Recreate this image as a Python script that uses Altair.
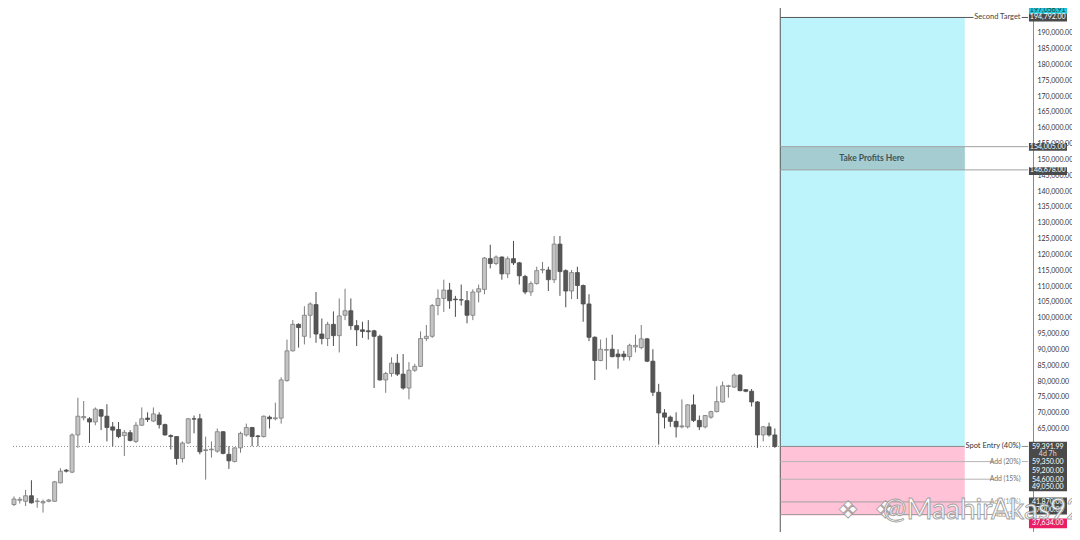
import altair as alt
import pandas as pd

# ---- weekly candles (thousands USD) ----
opens = [41.06, 42.39, 42.08, 43.82, 41.98, 41.57, 42.08, 42.08, 47.90, 51.88,
         51.27, 63.01, 68.42, 68.12, 67.10, 70.98, 68.93, 65.56, 64.75, 62.81,
         63.73, 60.97, 66.08, 68.32, 67.40, 69.34, 66.28, 62.81, 62.50, 55.56,
         60.46, 68.12, 68.12, 58.11, 58.32, 57.91, 64.03, 56.89, 54.64, 58.93,
         63.01, 65.36, 62.71, 62.50, 68.63, 68.12, 68.32, 80.17, 89.56, 97.93,
         94.15, 100.79, 104.16, 94.87, 93.44, 97.93, 94.36, 100.79, 102.22, 97.52,
         96.20, 95.89, 95.89, 94.15, 80.37, 82.41, 85.68, 82.21, 77.82, 83.43,
         84.66, 93.44, 94.15, 103.85, 106.10, 108.75, 105.90, 105.69, 105.39, 100.79,
         108.14, 108.96, 118.66, 117.13, 119.17, 113.86, 118.66, 117.33, 113.04, 108.14,
         110.80, 115.08, 115.08, 112.02, 123.25, 114.88, 108.45, 114.27, 110.18, 104.36,
         93.85, 86.50, 89.76, 90.07, 88.54, 88.54, 87.72, 90.79, 90.58, 93.34,
         86.29, 76.49, 69.96, 68.63, 67.30, 65.57, 65.57, 72.51, 67.61, 65.57,
         68.63, 70.37, 73.43, 78.33, 78.12, 81.90, 77.31, 76.80, 73.43, 63.01,
         65.57, 63.01]
highs = [43.61, 43.41, 45.66, 48.72, 43.10, 42.59, 42.80, 48.51, 52.50, 52.29,
         63.52, 74.75, 73.73, 68.63, 71.69, 71.18, 72.71, 67.10, 67.10, 64.54,
         64.54, 67.10, 71.69, 70.16, 71.69, 70.16, 66.59, 63.22, 62.60, 60.97,
         68.32, 69.14, 69.65, 62.50, 60.97, 65.05, 64.24, 59.44, 59.13, 64.03,
         66.59, 65.56, 63.01, 69.14, 69.14, 73.22, 81.20, 93.13, 99.26, 98.24,
         103.65, 104.87, 108.14, 99.77, 98.75, 102.02, 106.10, 109.16, 106.10, 99.26,
         98.75, 99.26, 96.20, 94.66, 82.92, 87.52, 88.54, 88.54, 85.99, 85.48,
         95.69, 97.73, 104.36, 108.96, 112.02, 111.00, 106.92, 110.49, 108.45, 108.96,
         110.49, 119.17, 123.05, 119.68, 119.37, 119.37, 124.27, 117.64, 113.55, 111.51,
         116.11, 117.64, 116.11, 125.81, 125.81, 115.29, 115.08, 116.11, 110.49, 107.43,
         94.15, 93.13, 93.64, 94.66, 90.07, 89.56, 91.81, 94.66, 97.73, 93.64,
         90.07, 79.15, 71.18, 69.14, 70.16, 74.24, 72.71, 75.78, 69.14, 69.34,
         70.67, 78.33, 79.86, 78.84, 82.41, 82.21, 77.51, 77.51, 73.73, 65.87,
         66.89, 65.06]
lows = [40.55, 41.37, 40.55, 41.37, 40.04, 38.51, 41.77, 41.88, 47.70, 51.17,
        50.96, 58.93, 67.61, 60.46, 66.08, 64.54, 60.97, 59.44, 61.99, 56.38,
        60.97, 60.46, 65.87, 67.10, 67.10, 65.05, 62.81, 58.42, 53.62, 54.33,
        60.26, 63.52, 56.89, 48.92, 55.87, 57.40, 56.89, 52.29, 54.33, 57.40,
        62.50, 59.44, 59.44, 62.20, 65.05, 67.61, 66.59, 79.86, 89.36, 90.58,
        91.60, 93.64, 92.11, 91.60, 91.09, 91.09, 89.05, 99.26, 96.20, 91.09,
        93.64, 93.13, 77.82, 80.17, 76.29, 81.39, 81.60, 77.31, 74.24, 82.92,
        84.45, 92.62, 93.64, 100.79, 101.81, 102.83, 100.28, 103.85, 98.24, 99.26,
        104.87, 107.43, 115.60, 116.62, 112.02, 112.53, 116.62, 110.49, 107.43, 106.92,
        110.49, 114.06, 108.45, 111.00, 106.92, 103.34, 105.90, 105.90, 98.75, 92.62,
        80.37, 86.29, 83.64, 87.52, 83.94, 86.50, 86.50, 89.05, 90.07, 85.99,
        75.27, 59.95, 65.06, 65.57, 62.20, 65.06, 65.06, 67.10, 64.55, 65.06,
        68.12, 70.16, 73.22, 74.76, 77.82, 76.80, 76.49, 72.00, 58.93, 60.97,
        62.50, 58.93]
closes = [42.80, 42.69, 43.82, 41.57, 42.18, 41.98, 42.49, 48.21, 51.58, 51.58,
          63.01, 68.93, 68.83, 67.10, 71.18, 68.93, 65.36, 64.54, 62.50, 63.83,
          61.28, 66.08, 68.12, 67.91, 69.65, 66.28, 63.01, 62.50, 55.56, 60.46,
          68.12, 68.02, 57.70, 58.32, 58.52, 64.03, 57.19, 54.85, 58.93, 63.52,
          65.36, 62.50, 62.50, 68.93, 68.12, 68.42, 80.37, 89.56, 97.93, 96.91,
          100.79, 104.36, 94.87, 93.44, 97.93, 94.36, 100.59, 102.22, 97.52, 96.20,
          95.69, 95.60, 94.15, 80.37, 82.41, 85.68, 82.21, 77.82, 83.43, 84.66,
          93.44, 94.15, 103.85, 106.10, 108.75, 105.39, 105.69, 105.60, 100.79, 108.14,
          109.16, 118.86, 117.13, 119.17, 113.86, 118.66, 117.33, 113.25, 108.14, 110.80,
          114.88, 115.29, 112.02, 123.25, 114.57, 108.45, 114.27, 110.18, 104.36, 93.85,
          86.50, 90.07, 89.97, 87.72, 87.72, 87.72, 91.30, 91.30, 93.34, 86.29,
          76.49, 69.96, 68.63, 67.30, 65.57, 65.87, 72.51, 67.61, 65.57, 69.14,
          70.37, 73.53, 78.53, 78.53, 81.90, 77.00, 76.80, 73.43, 63.01, 65.57,
          63.01, 59.39]

# ---- trade plan levels (USD) ----
second_target = 194792.0
tp_high = 154005.0
tp_low = 146678.0
spot_entry = 59391.99
add20 = 54600.0
add15 = 49050.0
add10 = 41870.0
add5 = 37900.0
zone_bottom = 37590.0

axis_values = list(range(65000, 190001, 5000))

n = len(closes)
df = pd.DataFrame({
    "i": list(range(1, n + 1)),
    "open": [v * 1000 for v in opens],
    "high": [v * 1000 for v in highs],
    "low": [v * 1000 for v in lows],
    "close": [v * 1000 for v in closes],
})
df["dir"] = ["up" if c >= o else "down" for o, c in zip(df["open"], df["close"])]

# x in candle-index units
X0, X1 = 0.83, 182.3
XV = 132.93      # zone left edge / vertical line
XZR = 164.7      # zone right edge
XAX = 175.6      # price axis
XTXT = 174.3     # right end of line labels
XLB = 175.75     # label boxes left
XLC = 178.98     # label text centre
Y0, Y1 = 32380, 197780

W, H = 1064, 524

xs = alt.Scale(domain=[X0, X1], nice=False, zero=False)
ys = alt.Scale(domain=[Y0, Y1], nice=False, zero=False)
yaxis = alt.Axis(orient="right", offset=-39, values=axis_values, format=",.2f",
                 labelFont="Lato", labelFontSize=7, labelColor="#333333",
                 ticks=False, grid=False, domainColor="#8a8a8a", domainWidth=1,
                 title=None, labelPadding=4, labelAlign="left", zindex=0,
                 labelFlush=False, labelOverlap=False)


def X(f):
    return alt.X(f, type="quantitative", scale=xs, axis=None)


def Y(f):
    return alt.Y(f, type="quantitative", scale=ys, axis=yaxis)


zones_df = pd.DataFrame([
    {"x": XV, "x2": XZR, "y": spot_entry, "y2": second_target, "fill": "#bdf4fc"},
    {"x": XV, "x2": XZR, "y": tp_low, "y2": tp_high, "fill": "#a5ccd1"},
    {"x": XV, "x2": XZR, "y": zone_bottom, "y2": spot_entry, "fill": "#ffc2d7"},
])
zones = alt.Chart(zones_df).mark_rect().encode(
    x=X("x"), x2="x2", y=Y("y"), y2="y2", fill=alt.Fill("fill:N", scale=None))

price_line = alt.Chart(pd.DataFrame({"x": [X0], "x2": [XV], "y": [spot_entry]})).mark_rule(
    color="#8c8c8c", strokeDash=[1, 2], strokeWidth=1).encode(x=X("x"), x2="x2", y=Y("y"))

dir_scale_w = alt.Scale(domain=["up", "down"], range=["#7c7c7c", "#4c4c4c"])
dir_scale_f = alt.Scale(domain=["up", "down"], range=["#c4c4c4", "#555555"])
wicks = alt.Chart(df).mark_rule(strokeWidth=1).encode(
    x=X("i"), y=Y("low"), y2="high",
    color=alt.Color("dir:N", scale=dir_scale_w, legend=None))
bodies = alt.Chart(df).mark_bar(size=4, strokeWidth=0.8).encode(
    x=X("i"), y=Y("open"), y2="close",
    fill=alt.Fill("dir:N", scale=dir_scale_f, legend=None),
    stroke=alt.Stroke("dir:N", scale=dir_scale_w, legend=None))

vline = alt.Chart(pd.DataFrame({"x": [XV], "y": [Y0], "y2": [Y1]})).mark_rule(
    color="#555555", strokeWidth=1).encode(x=X("x"), y=Y("y"), y2="y2")

hl_df = pd.DataFrame([
    {"x": XV, "x2": 166.2, "y": second_target, "c": "#555555"},
    {"x": 174.5, "x2": XAX, "y": second_target, "c": "#555555"},
    {"x": XV, "x2": XAX, "y": tp_high, "c": "#a0a0a0"},
    {"x": XV, "x2": XAX, "y": tp_low, "c": "#a0a0a0"},
    {"x": XV, "x2": XZR, "y": spot_entry, "c": "#8a8a8a"},
    {"x": 174.5, "x2": XAX, "y": spot_entry, "c": "#8a8a8a"},
    {"x": XV, "x2": 169.6, "y": add20, "c": "#b4b4b4"},
    {"x": 174.5, "x2": XAX, "y": add20, "c": "#b4b4b4"},
    {"x": XV, "x2": 169.6, "y": add15, "c": "#b4b4b4"},
    {"x": XV, "x2": 169.6, "y": add10, "c": "#a0a0a0"},
    {"x": XV, "x2": 169.6, "y": add5, "c": "#a0a0a0"},
])
hlines = alt.Chart(hl_df).mark_rule(strokeWidth=1).encode(
    x=X("x"), x2="x2", y=Y("y"), color=alt.Color("c:N", scale=None))

tp_text = alt.Chart(pd.DataFrame({"x": [148.7], "y": [(tp_low + tp_high) / 2], "t": ["Take Profits Here"]})).mark_text(
    font="Lato", fontSize=8.5, fontWeight="bold", color="#3e5558", align="center", baseline="middle").encode(
    x=X("x"), y=Y("y"), text="t:N")

lbl_df = pd.DataFrame([
    {"x": XTXT, "y": second_target, "t": "Second Target", "c": "#444444", "s": 7.5},
    {"x": XTXT, "y": spot_entry, "t": "Spot Entry (40%)", "c": "#333333", "s": 7.5},
    {"x": XTXT, "y": add20, "t": "Add (20%)", "c": "#707070", "s": 6.8},
    {"x": XTXT, "y": add15, "t": "Add (15%)", "c": "#707070", "s": 6.8},
    {"x": XTXT, "y": add10, "t": "Add (10%)", "c": "#999999", "s": 6.8},
    {"x": XTXT, "y": add5, "t": "Add (5%)", "c": "#999999", "s": 6.8},
])
line_labels = alt.Chart(lbl_df).mark_text(font="Lato", align="right", baseline="middle").encode(
    x=X("x"), y=Y("y"), text="t:N", color=alt.Color("c:N", scale=None), size=alt.Size("s:Q", scale=None))

box_df = pd.DataFrame([
    {"x": XLB, "x2": X1, "y": 195940, "y2": 198600, "fill": "#26c6da"},
    {"x": XLB, "x2": X1, "y": 193490, "y2": 195940, "fill": "#4a4a4a"},
    {"x": XLB, "x2": X1, "y": 152760, "y2": 155200, "fill": "#4a4a4a"},
    {"x": XLB, "x2": X1, "y": 145100, "y2": 147550, "fill": "#4a4a4a"},
    {"x": XLB, "x2": X1, "y": 45250, "y2": 60870, "fill": "#4a4a4a"},
    {"x": XLB, "x2": X1, "y": 37900, "y2": 43290, "fill": "#4a4a4a"},
    {"x": XLB, "x2": X1, "y": 33600, "y2": 36670, "fill": "#e91e63"},
])
boxes = alt.Chart(box_df).mark_rect().encode(
    x=X("x"), x2="x2", y=Y("y"), y2="y2", fill=alt.Fill("fill:N", scale=None))

box_txt_df = pd.DataFrame([
    {"x": XLC, "y": 197300, "t": "197,056.91", "c": "#0b3a40"},
    {"x": XLC, "y": 194792, "t": "194,792.00", "c": "#ffffff"},
    {"x": XLC, "y": 154005, "t": "154,005.00", "c": "#ffffff"},
    {"x": XLC, "y": 146678, "t": "146,678.00", "c": "#ffffff"},
    {"x": XLC, "y": 59330, "t": "59,391.99", "c": "#ffffff"},
    {"x": XLC, "y": 56890, "t": "4d 7h", "c": "#dddddd"},
    {"x": XLC, "y": 54440, "t": "59,350.00", "c": "#ffffff"},
    {"x": XLC, "y": 51680, "t": "59,200.00", "c": "#ffffff"},
    {"x": XLC, "y": 48920, "t": "54,600.00", "c": "#ffffff"},
    {"x": XLC, "y": 46470, "t": "49,050.00", "c": "#ffffff"},
    {"x": XLC, "y": 41870, "t": "41,870.00", "c": "#ffffff"},
    {"x": XLC, "y": 39430, "t": "37,900.00", "c": "#ffffff"},
    {"x": XLC, "y": 35140, "t": "37,634.00", "c": "#ffffff"},
])
box_txt = alt.Chart(box_txt_df).mark_text(font="Lato", fontSize=7, align="center", baseline="middle").encode(
    x=X("x"), y=Y("y"), text="t:N", color=alt.Color("c:N", scale=None))

wm_text = alt.Chart(pd.DataFrame({"x": [167.8], "y": [39000], "t": ["@MaahirAkas92"]})).mark_text(
    font="Lato", fontSize=28, align="center", baseline="middle", fill="#ffffff", stroke="#9a9a9a",
    strokeWidth=0.9, opacity=0.92).encode(x=X("x"), y=Y("y"), text="t:N")
wm_logo = alt.Chart(pd.DataFrame({"x": [144.6, 151.0], "y": [39000, 39000], "t": ["\u2756", "\u2756"]})).mark_text(
    font="DejaVu Sans", fontSize=24, align="center", baseline="middle", fill="#ffffff", stroke="#9a9a9a",
    strokeWidth=0.9, opacity=0.92).encode(x=X("x"), y=Y("y"), text="t:N")

chart = alt.layer(
    zones, price_line, wicks, bodies, vline, hlines, tp_text, line_labels,
    boxes, box_txt, wm_logo, wm_text
).properties(
    width=W, height=H, autosize=alt.AutoSizeParams(type="none"), padding=0,
    background="#ffffff"
).configure_view(stroke=None)

chart.save("out.html", embed_options={"renderer": "svg", "actions": False})
